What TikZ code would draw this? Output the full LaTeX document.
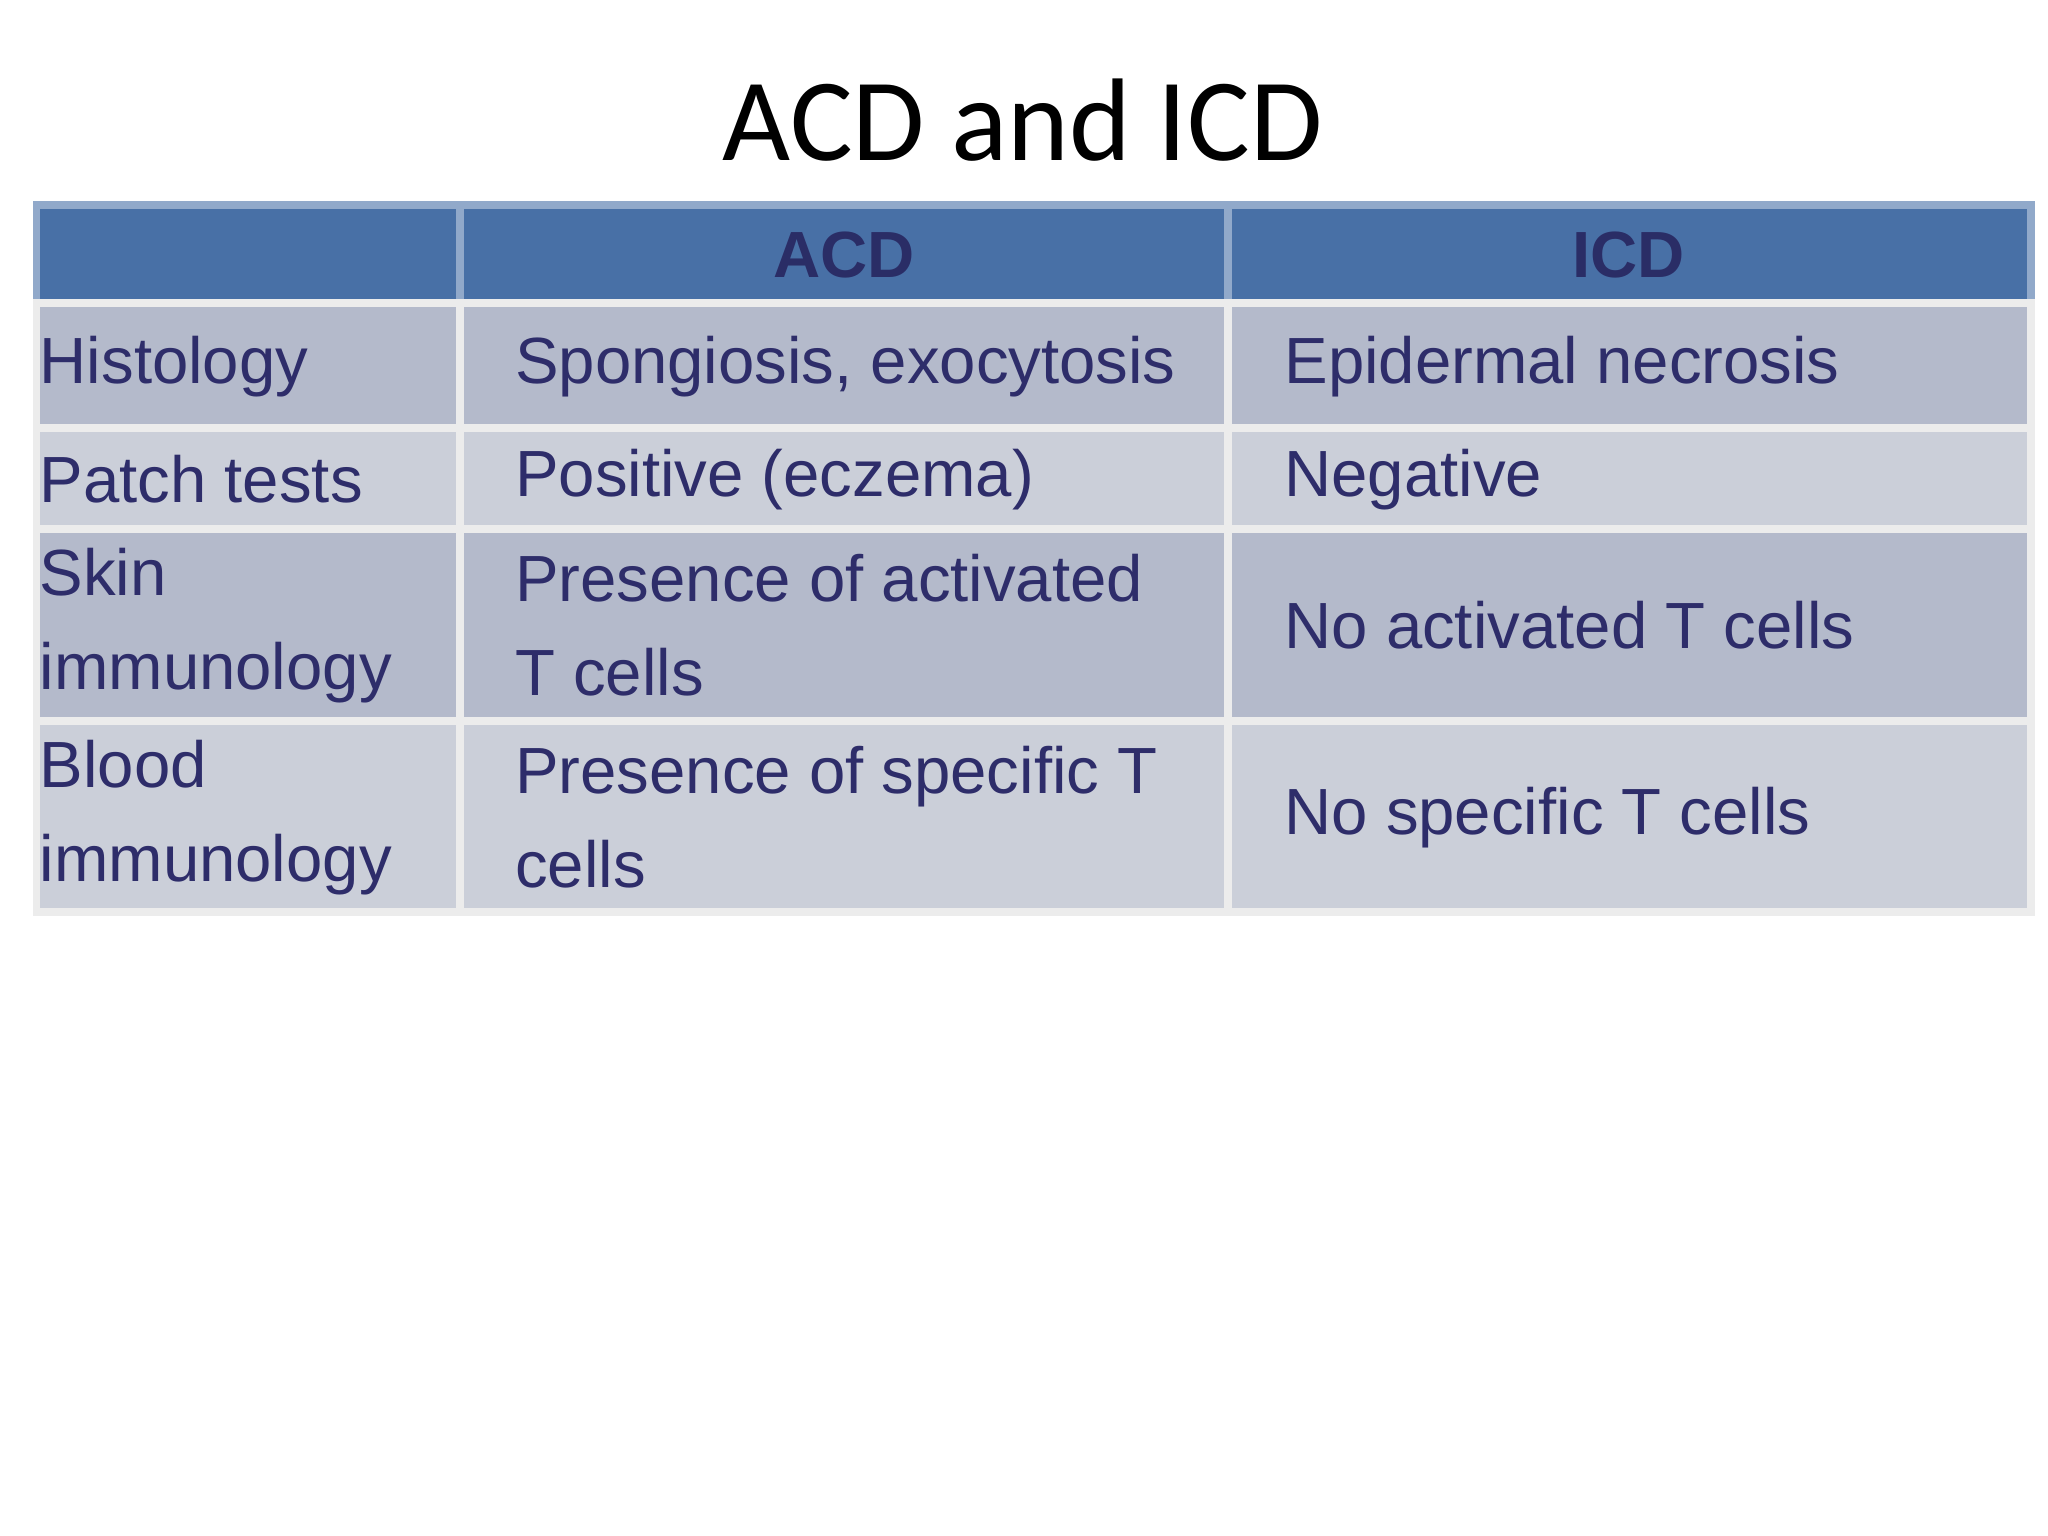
\documentclass[tikz,border=0pt]{standalone}
\usepackage{fontspec}
\newfontfamily\arialf{Liberation Sans}
\newfontfamily\titlef{Carlito}
\definecolor{hdr}{HTML}{4870A6}
\definecolor{rowa}{HTML}{B4BACB}
\definecolor{rowb}{HTML}{CBCFD9}
\definecolor{txt}{HTML}{2E2D6A}
\definecolor{hdrtxt}{HTML}{2A2D66}
\tikzset{
 cell/.style={draw=white!85!gray, line width=3, },
 tx/.style={anchor=west, inner sep=0, text=txt, font=\arialf\fontsize{25}{36}\selectfont, align=left},
 hx/.style={inner sep=0, text=hdrtxt, font=\arialf\bfseries\fontsize{25}{30}\selectfont},
}
\begin{document}
\begin{tikzpicture}[x=0.5pt,y=-0.5pt]
\fill[white] (0,0) rectangle (1568,1176);
\useasboundingbox (0,0) rectangle (1568,1176);
\node[font=\titlef\fontsize{45}{50}\selectfont] (title) at (783,92) {ACD and ICD};
% header
\foreach \a/\b in {28/352,352/940,940/1555}{
 \filldraw[fill=hdr,draw=hdr!60!white,line width=3] (\a,157) rectangle (\b,232);}
\foreach \ya/\yb/\c in {232/328/rowa,328/405/rowb,405/552/rowa,552/698/rowb}{
 \foreach \a/\b in {28/352,352/940,940/1555}{
  \filldraw[fill=\c,cell] (\a,\ya) rectangle (\b,\yb);}}
\node[hx] (h1) at (646,195) {ACD};
\node[hx] (h2) at (1247,195) {ICD};
\node[tx] (r1a) at (30,281) {Histology};
\node[tx] (r1b) at (394,281) {Spongiosis, exocytosis};
\node[tx] (r1c) at (983,281) {Epidermal necrosis};
\node[tx] (r2a) at (30,367) {Patch tests};
\node[tx] (r2b) at (394,367) {Positive (eczema)};
\node[tx] (r2c) at (983,367) {Negative};
\node[tx] (r3a) at (30,479) {Skin\\immunology};
\node[tx] (r3b) at (394,479) {Presence of activated\\T cells};
\node[tx] (r3c) at (983,479) {No activated T cells};
\node[tx] (r4a) at (30,626) {Blood\\immunology};
\node[tx] (r4b) at (394,626) {Presence of specific T\\cells};
\node[tx] (r4c) at (983,626) {No specific T cells};
\end{tikzpicture}
\end{document}
